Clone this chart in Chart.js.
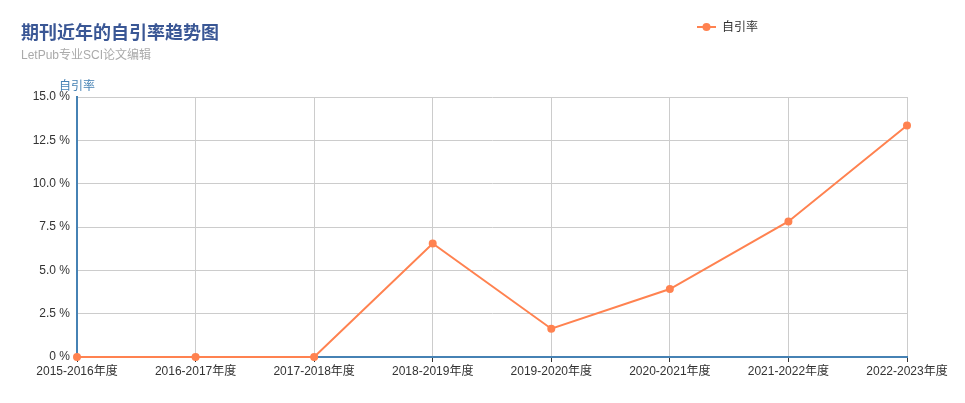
<!DOCTYPE html>
<html>
<head>
<meta charset="utf-8">
<script src="https://cdn.jsdelivr.net/npm/chart.js@4/dist/chart.umd.min.js"></script>
<style>
  html, body { margin: 0; padding: 0; background: #fff; }
  #wrap { position: relative; width: 965px; height: 403px; }
  #title { position: absolute; left: 21px; top: 18px; font: bold 18px "Liberation Sans", "Noto Sans CJK SC", sans-serif; color: #3a5795; }
  #subtitle { position: absolute; left: 21px; top: 45px; font: 12px "Liberation Sans", "Noto Sans CJK SC", sans-serif; color: #aaa; }
</style>
</head>
<body>
<div id="wrap">
  <canvas id="grafico" width="965" height="403"></canvas>
  <div id="title">期刊近年的自引率趋势图</div>
  <div id="subtitle">LetPub专业SCI论文编辑</div>
</div>
<script>
const years = ['2015-2016年度', '2016-2017年度', '2017-2018年度', '2018-2019年度',
               '2019-2020年度', '2020-2021年度', '2021-2022年度', '2022-2023年度'];
const selfCiteRate = [0, 0, 0, 6.55, 1.63, 3.92, 7.82, 13.36];
const yTicks = [0, 2.5, 5, 7.5, 10, 12.5, 15];
const seriesName = '自引率';
const yTitle = '自引率';

const fontFam = '"Liberation Sans", "Noto Sans CJK SC", sans-serif';

// y axis title above the axis, and a small legend at the top
const extras = {
    id: 'extras',
    afterDraw(chart) {
        const ctx = chart.ctx;
        const area = chart.chartArea;
        ctx.save();
        ctx.font = '12px ' + fontFam;
        ctx.fillStyle = '#4682b4';
        ctx.textAlign = 'center';
        ctx.textBaseline = 'middle';
        ctx.fillText(yTitle, area.left, area.top - 10);

        const ds = chart.data.datasets[0];
        const lx = 697, ly = 27;
        ctx.strokeStyle = ds.borderColor;
        ctx.lineWidth = 2;
        ctx.beginPath();
        ctx.moveTo(lx, ly);
        ctx.lineTo(lx + 19, ly);
        ctx.stroke();
        ctx.fillStyle = ds.borderColor;
        ctx.beginPath();
        ctx.arc(lx + 9.5, ly, 4, 0, Math.PI * 2);
        ctx.fill();
        ctx.fillStyle = '#333';
        ctx.textAlign = 'left';
        ctx.fillText(ds.label, lx + 25, ly + 1);
        ctx.restore();
    }
};

document.addEventListener('DOMContentLoaded', function(){
    const ctx = document.getElementById('grafico').getContext('2d');
    new Chart(ctx, {
        type: 'line',
        data: {
            labels: years,
            datasets: [{
                label: seriesName,
                data: selfCiteRate,
                borderColor: '#ff8250',
                backgroundColor: '#ff8250',
                borderWidth: 2,
                pointRadius: 3,
                pointHoverRadius: 4,
                tension: 0,
                clip: false
            }]
        },
        options: {
            responsive: false,
            animation: false,
            events: [],
            layout: { padding: { top: 97, right: 58, bottom: 16, left: 0 } },
            plugins: {
                legend: { display: false },
                title: { display: false },
                tooltip: { enabled: false }
            },
            scales: {
                x: {
                    offset: false,
                    grid: { color: '#cccccc', tickColor: '#333', tickLength: 5 },
                    border: { color: '#4682b4', width: 2 },
                    ticks: { color: '#333', font: { family: fontFam, size: 12 }, padding: 2, maxRotation: 0, autoSkip: false },
                    afterFit(scale) { scale.height = 30; }
                },
                y: {
                    min: 0,
                    max: 15,
                    grid: { color: '#cccccc', drawTicks: false },
                    border: { color: '#4682b4', width: 2 },
                    afterBuildTicks(scale) { scale.ticks = yTicks.map(v => ({ value: v })); },
                    ticks: {
                        color: '#333',
                        padding: 7,
                        font: { family: fontFam, size: 12 },
                        callback: v => v === 0 ? '0 %' : v.toFixed(1) + ' %'
                    },
                    afterFit(scale) { scale.width = 77; }
                }
            }
        },
        plugins: [extras]
    });
});
</script>
</body>
</html>
